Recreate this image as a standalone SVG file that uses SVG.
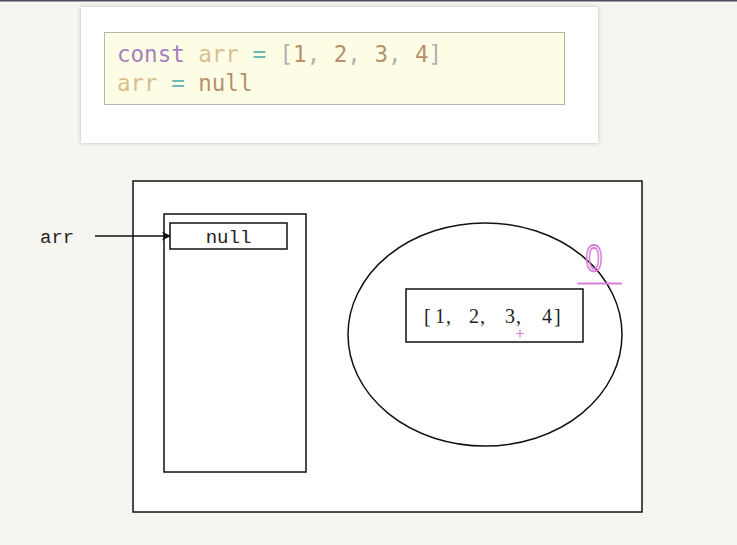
<svg xmlns="http://www.w3.org/2000/svg" width="737" height="545" viewBox="0 0 737 545">
<defs>
<style>
.box{fill:none;stroke:#111;stroke-width:1.5}
.code{font-family:"DejaVu Sans Mono","Liberation Mono",monospace;font-size:22.5px}
.serif{font-family:"Liberation Mono","DejaVu Sans Mono",monospace;font-size:19px;fill:#222}
.pink{fill:none;stroke:#d77fd7;stroke-width:2;stroke-linecap:round}
</style>
<marker id="ah" viewBox="0 0 10 10" refX="9" refY="5" markerWidth="9" markerHeight="9" markerUnits="userSpaceOnUse" orient="auto">
<path d="M0,0 L10,5 L0,10 L3,5 Z" fill="#111"/>
</marker>
<filter id="sh" x="-5%" y="-10%" width="110%" height="120%">
<feGaussianBlur stdDeviation="2"/>
</filter>
</defs>
<rect width="737" height="545" fill="#f7f5f0"/>
<rect x="0" y="0" width="737" height="1.5" fill="#4a4f5c"/>
<g id="code-card">
<rect x="81" y="7" width="517" height="136" fill="#bbb" filter="url(#sh)"/>
<rect x="81" y="7" width="517" height="136" fill="#ffffff"/>
<rect x="104.5" y="32.5" width="460" height="72" fill="#fdfde6" stroke="#b5b5a8" stroke-width="1"/>
<text class="code" x="117" y="62"><tspan fill="#a67fbe">const</tspan><tspan fill="#d9bd8f"> arr</tspan><tspan fill="#6db8b4"> =</tspan><tspan fill="#b0b0b0"> [</tspan><tspan fill="#b4916a">1</tspan><tspan fill="#b0b0b0">, </tspan><tspan fill="#b4916a">2</tspan><tspan fill="#b0b0b0">, </tspan><tspan fill="#b4916a">3</tspan><tspan fill="#b0b0b0">, </tspan><tspan fill="#b4916a">4</tspan><tspan fill="#b0b0b0">]</tspan></text>
<text class="code" x="117" y="91"><tspan fill="#d9bd8f">arr</tspan><tspan fill="#6db8b4"> =</tspan><tspan fill="#b4916a"> null</tspan></text>
</g>
<g id="memory">
<rect x="133" y="181" width="509" height="331" fill="#ffffff" stroke="#111" stroke-width="1.5"/>
</g>
<g id="stack">
<rect class="box" x="164" y="214" width="142" height="258"/>
</g>
<g id="null-cell">
<rect class="box" x="170" y="223" width="117" height="26"/>
<text class="serif" x="228.5" y="243" text-anchor="middle">null</text>
</g>
<g id="arr-label">
<text class="serif" x="40" y="243">arr</text>
</g>
<g id="heap">
<ellipse class="box" cx="485" cy="334.5" rx="137" ry="111.5"/>
</g>
<g id="array-cell">
<rect class="box" x="406" y="289" width="177" height="53"/>
<text x="424 435 446 469 480 505 516 542 554" y="323" style="font-family:'Liberation Serif','DejaVu Serif',serif;font-size:20px;fill:#222">[1,2,3,4]</text>
</g>
<g id="connectors">
<line x1="95" y1="236" x2="170" y2="236" stroke="#111" stroke-width="1.5" marker-end="url(#ah)"/>
</g>
<g id="annotation">
<text x="594" y="271" text-anchor="middle" style="font-family:'DejaVu Sans',sans-serif;font-size:36px;fill:none;stroke:#d77fd7;stroke-width:1.8" transform="translate(594 0) scale(0.8 1) translate(-594 0)">0</text>
<line class="pink" x1="578" y1="283.5" x2="621" y2="283.5"/>
<line class="pink" x1="516.5" y1="333.5" x2="523.5" y2="333.5" style="stroke-width:1.2"/>
<line class="pink" x1="520" y1="330" x2="520" y2="337" style="stroke-width:1.2"/>
</g>
</svg>
